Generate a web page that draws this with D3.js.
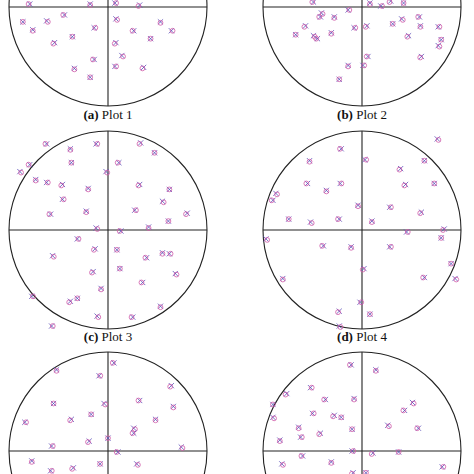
<!DOCTYPE html>
<html><head><meta charset="utf-8">
<script src="https://d3js.org/d3.v7.min.js"></script>
<style>body{margin:0;background:#fff}</style></head>
<body><svg id="c" width="474" height="474"></svg>
<script>
const labels = [["(a)"," Plot 1"],["(b)"," Plot 2"],["(c)"," Plot 3"],["(d)"," Plot 4"],["(e)"," Plot 5"],["(f)"," Plot 6"]];
const plot1 = [[-79,3],[-18,3],[7,4],[32,2],[-86,-15],[-62,-14],[-44,-8],[-76,-23],[-14,-21],[-54,-36],[-36,-30],[8,-12],[26,-24],[53,-15],[64,-24],[8,-36],[43,-32],[14,-49],[-14,-53],[-34,-62],[7,-60],[36,-61],[-18,-71]];
const plot2 = [[-49,5],[8,4],[19,1],[29,6],[42,4],[-41,-6],[-42,-10],[-28,-10],[-14,-3],[-57,-19],[-67,-28],[-49,-29],[-45,-32],[-31,-26],[-8,-21],[5,-19],[31,-17],[40,-12],[58,-10],[59,-19],[77,-20],[47,-29],[80,-33],[77,-39],[6,-50],[-14,-59],[1,-59],[60,-50],[-23,-73]];
const plot3 = [[-62,87],[-38,82],[-12,87],[33,88],[47,78],[-89,59],[-79,66],[-73,51],[-62,48],[-46,46],[-37,68],[-2,59],[11,68],[-20,42],[-46,31],[32,46],[62,41],[55,29],[-58,16],[-22,19],[27,20],[80,17],[61,9],[-12,2],[13,-1],[41,3],[-31,-9],[-13,-19],[9,-20],[-56,-26],[39,-28],[55,-23],[62,-24],[-15,-42],[12,-39],[68,-44],[35,-53],[-7,-59],[-77,-67],[-38,-72],[-31,-69],[-11,-87],[25,-88],[53,-77],[-57,-97]];
const plot4 = [[-21,82],[-53,70],[3,71],[39,62],[63,70],[76,92],[-55,47],[-36,40],[-22,47],[44,46],[73,47],[-87,37],[-90,30],[-4,25],[28,23],[60,18],[-74,11],[-52,8],[-23,11],[10,9],[45,-2],[83,1],[80,-8],[-97,-9],[-39,-16],[-11,-17],[28,-17],[2,-39],[90,-34],[94,-49],[63,-48],[-80,-49],[-2,-73],[-23,-82],[8,-85],[-23,-97]];
const plot5 = [[6,89],[-52,82],[-9,76],[64,66],[-55,48],[-4,48],[32,51],[66,45],[-84,29],[-37,32],[-17,37],[26,23],[26,18],[48,32],[-57,5],[-19,10],[0,13],[74,4],[10,-1],[-77,-10],[-58,-20],[-35,-17],[-8,-13],[29,-13]];
const plot6 = [[-11,87],[14,82],[-52,64],[-76,58],[-90,47],[-90,34],[-37,52],[-8,53],[-50,38],[-28,36],[-21,34],[51,49],[43,41],[-64,24],[-62,14],[-42,18],[-10,22],[26,26],[57,23],[-83,11],[-10,0],[11,-2],[37,-1],[-81,-13],[-60,-5],[-31,-11],[81,-16],[-9,-22],[4,-22]];
const plots = [plot1,plot2,plot3,plot4,plot5,plot6];
const centers = [[108,7],[362,7],[108,230],[362,230],[108,451],[362,451]];
const labelY = [119,119,341,341,null,null];
const R = 99;
const svg = d3.select("#c");
plots.forEach((pts,i)=>{
  const [cx,cy]=centers[i];
  const x = d3.scaleLinear().domain([-100,100]).range([cx-R,cx+R]);
  const y = d3.scaleLinear().domain([-100,100]).range([cy+R,cy-R]);
  const g = svg.append("g");
  g.append("circle").attr("cx",x(0)).attr("cy",y(0)).attr("r",R).attr("fill","none").attr("stroke","#222").attr("stroke-width",1.1);
  g.append("line").attr("x1",x(-100)).attr("x2",x(100)).attr("y1",y(0)).attr("y2",y(0)).attr("stroke","#222").attr("stroke-width",1.1);
  g.append("line").attr("x1",x(0)).attr("x2",x(0)).attr("y1",y(-100)).attr("y2",y(100)).attr("stroke","#222").attr("stroke-width",1.1);
  pts.forEach((p,k)=>{
    const px=x(p[0]), py=y(p[1]);
    const s=2.6;
    g.append("path").attr("d",`M${px-s},${py-s}L${px+s},${py+s}M${px-s},${py+s}L${px+s},${py-s}`).attr("stroke","#5a4fb8").attr("stroke-width",0.8).attr("fill","none");
    const o = (k%3)-1;
    g.append("circle").attr("cx",px+o*1.2).attr("cy",py+((k%2)?1:0)).attr("r",2.4).attr("fill","none").attr("stroke","#d05aa8").attr("stroke-width",0.8);
  });
  if(labelY[i]!==null){
    const t=g.append("text").attr("x",x(0)).attr("y",labelY[i]).attr("text-anchor","middle").attr("font-family","Liberation Serif, serif").attr("font-size",13).attr("fill","#111");
    t.append("tspan").attr("font-weight","bold").text(labels[i][0]);
    t.append("tspan").text(labels[i][1]);
  }
});
</script></body></html>
